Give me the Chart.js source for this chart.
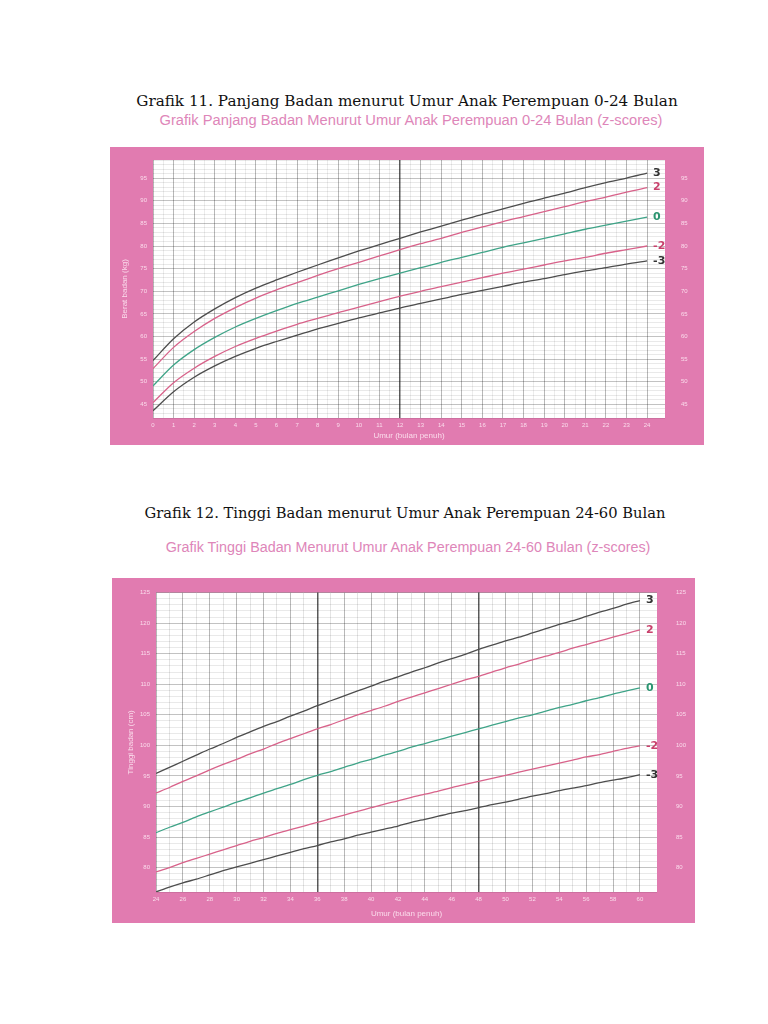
<!DOCTYPE html>
<html>
<head>
<meta charset="utf-8">
<script src="https://cdn.jsdelivr.net/npm/chart.js@4.4.1/dist/chart.umd.min.js"></script>
<style>
  body { margin: 0; background: #fff; width: 768px; height: 1024px; position: relative; overflow: hidden; }
  .title { position: absolute; width: 768px; text-align: center; font-family: "DejaVu Serif", serif; color: #111; white-space: nowrap; }
  .sub { position: absolute; width: 768px; text-align: center; font-family: "Liberation Sans", Arial, sans-serif; color: #de86b9; white-space: nowrap; }
  .box { position: absolute; background: #e17bb0; }
</style>
</head>
<body>
<div class="title" style="top:92px; left:23px; font-size:15.2px;">Grafik 11. Panjang Badan menurut Umur Anak Perempuan 0-24 Bulan</div>
<div class="sub" style="top:112px; left:27px; font-size:14.7px;">Grafik Panjang Badan Menurut Umur Anak Perempuan 0-24 Bulan (z-scores)</div>
<div class="box" style="left:110px; top:147px; width:594px; height:298px;"><canvas id="chart1"></canvas></div>

<div class="title" style="top:504px; left:21px; font-size:14.7px;">Grafik 12. Tinggi Badan menurut Umur Anak Perempuan 24-60 Bulan</div>
<div class="sub" style="top:539px; left:24px; font-size:14.35px;">Grafik Tinggi Badan Menurut Umur Anak Perempuan 24-60 Bulan (z-scores)</div>
<div class="box" style="left:112px; top:578px; width:583px; height:345px;"><canvas id="chart2"></canvas></div>

<script>
// Grafik 11: panjang badan 0-24 bulan
const ages1 = [0,1,2,3,4,5,6,7,8,9,10,11,12,13,14,15,16,17,18,19,20,21,22,23,24];
const len3neg = [43.6,47.8,51.0,53.5,55.6,57.4,58.9,60.3,61.7,62.9,64.1,65.2,66.3,67.3,68.3,69.3,70.2,71.1,72.0,72.8,73.7,74.5,75.2,76.0,76.7];
const len2neg = [45.4,49.8,53.0,55.6,57.8,59.6,61.2,62.7,64.0,65.3,66.5,67.7,68.9,70.0,71.0,72.0,73.0,74.0,74.9,75.8,76.7,77.5,78.4,79.2,80.0];
const lenMed = [49.1,53.7,57.1,59.8,62.1,64.0,65.7,67.3,68.7,70.1,71.5,72.8,74.0,75.2,76.4,77.5,78.6,79.7,80.7,81.7,82.7,83.7,84.6,85.5,86.4];
const len2pos = [52.9,57.6,61.1,64.0,66.4,68.5,70.3,71.9,73.5,75.0,76.4,77.8,79.2,80.5,81.7,83.0,84.2,85.4,86.5,87.6,88.7,89.8,90.8,91.9,92.9];
const len3pos = [54.7,59.5,63.2,66.1,68.6,70.7,72.5,74.2,75.8,77.4,78.9,80.3,81.7,83.1,84.4,85.7,87.0,88.2,89.4,90.6,91.7,92.9,94.0,95.0,96.1];
const lenTicks = [45,50,55,60,65,70,75,80,85,90,95];

// Grafik 12: tinggi badan 24-60 bulan
const ages2 = [24,25,26,27,28,29,30,31,32,33,34,35,36,37,38,39,40,41,42,43,44,45,46,47,48,49,50,51,52,53,54,55,56,57,58,59,60];
const hgt3neg = [76.0,76.8,77.5,78.1,78.8,79.5,80.1,80.7,81.3,81.9,82.5,83.1,83.6,84.2,84.7,85.3,85.8,86.3,86.8,87.4,87.9,88.4,88.9,89.3,89.8,90.3,90.7,91.2,91.7,92.1,92.6,93.0,93.4,93.9,94.3,94.7,95.2];
const hgt2neg = [79.3,80.0,80.8,81.5,82.2,82.9,83.6,84.3,84.9,85.6,86.2,86.8,87.4,88.0,88.6,89.2,89.8,90.4,90.9,91.5,92.0,92.5,93.1,93.6,94.1,94.6,95.1,95.6,96.1,96.6,97.1,97.6,98.1,98.5,99.0,99.5,99.9];
const hgtMed = [85.7,86.6,87.4,88.3,89.1,89.9,90.7,91.4,92.2,92.9,93.6,94.4,95.1,95.7,96.4,97.1,97.7,98.4,99.0,99.7,100.3,100.9,101.5,102.1,102.7,103.3,103.9,104.5,105.0,105.6,106.2,106.7,107.3,107.8,108.4,108.9,109.4];
const hgt2pos = [92.2,93.1,94.1,95.0,96.0,96.9,97.7,98.6,99.4,100.3,101.1,101.9,102.7,103.4,104.2,105.0,105.7,106.4,107.2,107.9,108.6,109.3,110.0,110.7,111.3,112.0,112.7,113.3,114.0,114.6,115.2,115.9,116.5,117.1,117.7,118.3,118.9];
const hgt3pos = [95.4,96.4,97.4,98.4,99.4,100.3,101.3,102.2,103.1,103.9,104.8,105.6,106.5,107.3,108.1,108.9,109.7,110.5,111.2,112.0,112.7,113.5,114.2,114.9,115.7,116.4,117.1,117.7,118.4,119.1,119.8,120.4,121.1,121.8,122.4,123.1,123.7];
const hgtTicks = [80,85,90,95,100,105,110,115,120,125];
const ageTicks2 = [24,26,28,30,32,34,36,38,40,42,44,46,48,50,52,54,56,58,60];

const zNames = ['-3', '-2', '0', '2', '3'];
const lineColors = ['#4d4d4d', '#d8628a', '#3fa488', '#d8628a', '#4d4d4d'];
const labelColors = ['#333', '#c8416c', '#2b9470', '#c8416c', '#333'];

const tickColor = 'rgba(255,236,246,0.85)';

const whiteArea = {
    id: 'whiteArea',
    beforeDraw(chart) {
        const a = chart.chartArea;
        chart.ctx.save();
        chart.ctx.fillStyle = '#ffffff';
        chart.ctx.fillRect(a.left, a.top, a.right - a.left, a.bottom - a.top);
        chart.ctx.restore();
    }
};

const zLabelPlugin = {
    id: 'zLabels',
    afterDatasetsDraw(chart) {
        const ctx = chart.ctx;
        ctx.save();
        ctx.font = 'bold 11px "DejaVu Sans", sans-serif';
        ctx.textBaseline = 'middle';
        chart.data.datasets.forEach((ds, i) => {
            const pts = chart.getDatasetMeta(i).data;
            const last = pts[pts.length - 1];
            ctx.fillStyle = labelColors[i];
            ctx.fillText(ds.label, last.x + 6, last.y);
        });
        ctx.restore();
    }
};

function range(a, b, step) {
    const out = [];
    for (let v = a; v <= b + 1e-9; v += step) out.push({ value: Math.round(v * 10) / 10 });
    return out;
}

function makeChart(id, opt) {
    const datasets = opt.series.map((s, i) => ({
        label: zNames[i],
        data: opt.ages.map((a, j) => ({ x: a, y: s[j] })),
        borderColor: lineColors[i],
        borderWidth: 1.3,
        pointRadius: 0,
        tension: 0.3,
        fill: false,
    }));

    return new Chart(document.getElementById(id), {
        type: 'line',
        data: { datasets },
        options: {
            responsive: true,
            maintainAspectRatio: false,
            animation: false,
            layout: { padding: { top: opt.padTop, left: 0, right: 0, bottom: 0 } },
            plugins: { legend: { display: false }, tooltip: { enabled: false } },
            scales: {
                x: {
                    type: 'linear',
                    min: opt.xMin,
                    max: opt.xMax,
                    afterBuildTicks: (scale) => { scale.ticks = range(opt.xMin, opt.xLast, opt.xStep); },
                    afterFit: (scale) => { scale.height = opt.xHeight; },
                    border: { display: false },
                    grid: {
                        drawTicks: false,
                        color: (c) => opt.xGridColor(c.tick.value),
                        lineWidth: (c) => (opt.xBold.includes(c.tick.value) ? 1.5 : 1),
                    },
                    ticks: {
                        autoSkip: false,
                        maxRotation: 0,
                        padding: 4,
                        color: tickColor,
                        font: { size: 6, family: '"Liberation Sans", sans-serif' },
                        callback: (v) => (opt.xLabels.includes(v) ? String(v) : ''),
                    },
                    title: {
                        display: true,
                        text: 'Umur (bulan penuh)',
                        color: tickColor,
                        font: { size: 8, family: '"Liberation Sans", sans-serif' },
                        padding: { top: 0, bottom: opt.xTitlePad },
                    },
                },
                y: {
                    min: opt.yMin,
                    max: opt.yMax,
                    afterBuildTicks: (scale) => { scale.ticks = range(opt.yMin, opt.yMax, 1); },
                    afterFit: (scale) => { scale.width = opt.yWidth; },
                    border: { display: false },
                    grid: {
                        drawTicks: false,
                        color: (c) => (c.tick.value % 5 === 0 ? 'rgba(0,0,0,0.24)' : 'rgba(0,0,0,0.085)'),
                    },
                    ticks: {
                        autoSkip: false,
                        padding: 6,
                        color: tickColor,
                        font: { size: 6, family: '"Liberation Sans", sans-serif' },
                        callback: (v) => (opt.yLabels.includes(v) ? String(v) : ''),
                    },
                    title: {
                        display: true,
                        text: opt.yTitle,
                        color: tickColor,
                        font: { size: 8, family: '"Liberation Sans", sans-serif' },
                        padding: { top: opt.yTitlePad, bottom: 0 },
                    },
                },
                y2: {
                    position: 'right',
                    min: opt.yMin,
                    max: opt.yMax,
                    afterBuildTicks: (scale) => { scale.ticks = opt.yLabels.map((v) => ({ value: v })); },
                    afterFit: (scale) => { scale.width = opt.y2Width; },
                    border: { display: false },
                    grid: { display: false },
                    ticks: {
                        autoSkip: false,
                        padding: opt.y2Pad,
                        color: tickColor,
                        font: { size: 6, family: '"Liberation Sans", sans-serif' },
                    },
                },
            },
        },
        plugins: [whiteArea, zLabelPlugin],
    });
}

makeChart('chart1', {
    ages: ages1,
    series: [len3neg, len2neg, lenMed, len2pos, len3pos],
    xMin: 0, xMax: 24.87, xLast: 24, xStep: 0.5,
    xLabels: ages1,
    xBold: [12],
    xGridColor: (v) => (v === 12 ? '#5a5a5a' : (Number.isInteger(v) ? '#b8b8b8' : '#ececec')),
    xHeight: 27, xTitlePad: 4,
    yMin: 42, yMax: 99, yLabels: lenTicks, yTitle: 'Berat badan (kg)', yTitlePad: 10,
    yWidth: 43, y2Width: 39, y2Pad: 8, padTop: 13,
});

makeChart('chart2', {
    ages: ages2,
    series: [hgt3neg, hgt2neg, hgtMed, hgt2pos, hgt3pos],
    xMin: 24, xMax: 61.27, xLast: 60, xStep: 1,
    xLabels: ageTicks2,
    xBold: [36, 48],
    xGridColor: (v) => (v === 36 || v === 48 ? '#5a5a5a' : (v % 2 === 0 ? '#b8b8b8' : '#e4e4e4')),
    xHeight: 31, xTitlePad: 4,
    yMin: 76, yMax: 125, yLabels: hgtTicks, yTitle: 'Tinggi badan (cm)', yTitlePad: 14,
    yWidth: 44, y2Width: 38, y2Pad: 11, padTop: 14,
});
</script>
</body>
</html>
